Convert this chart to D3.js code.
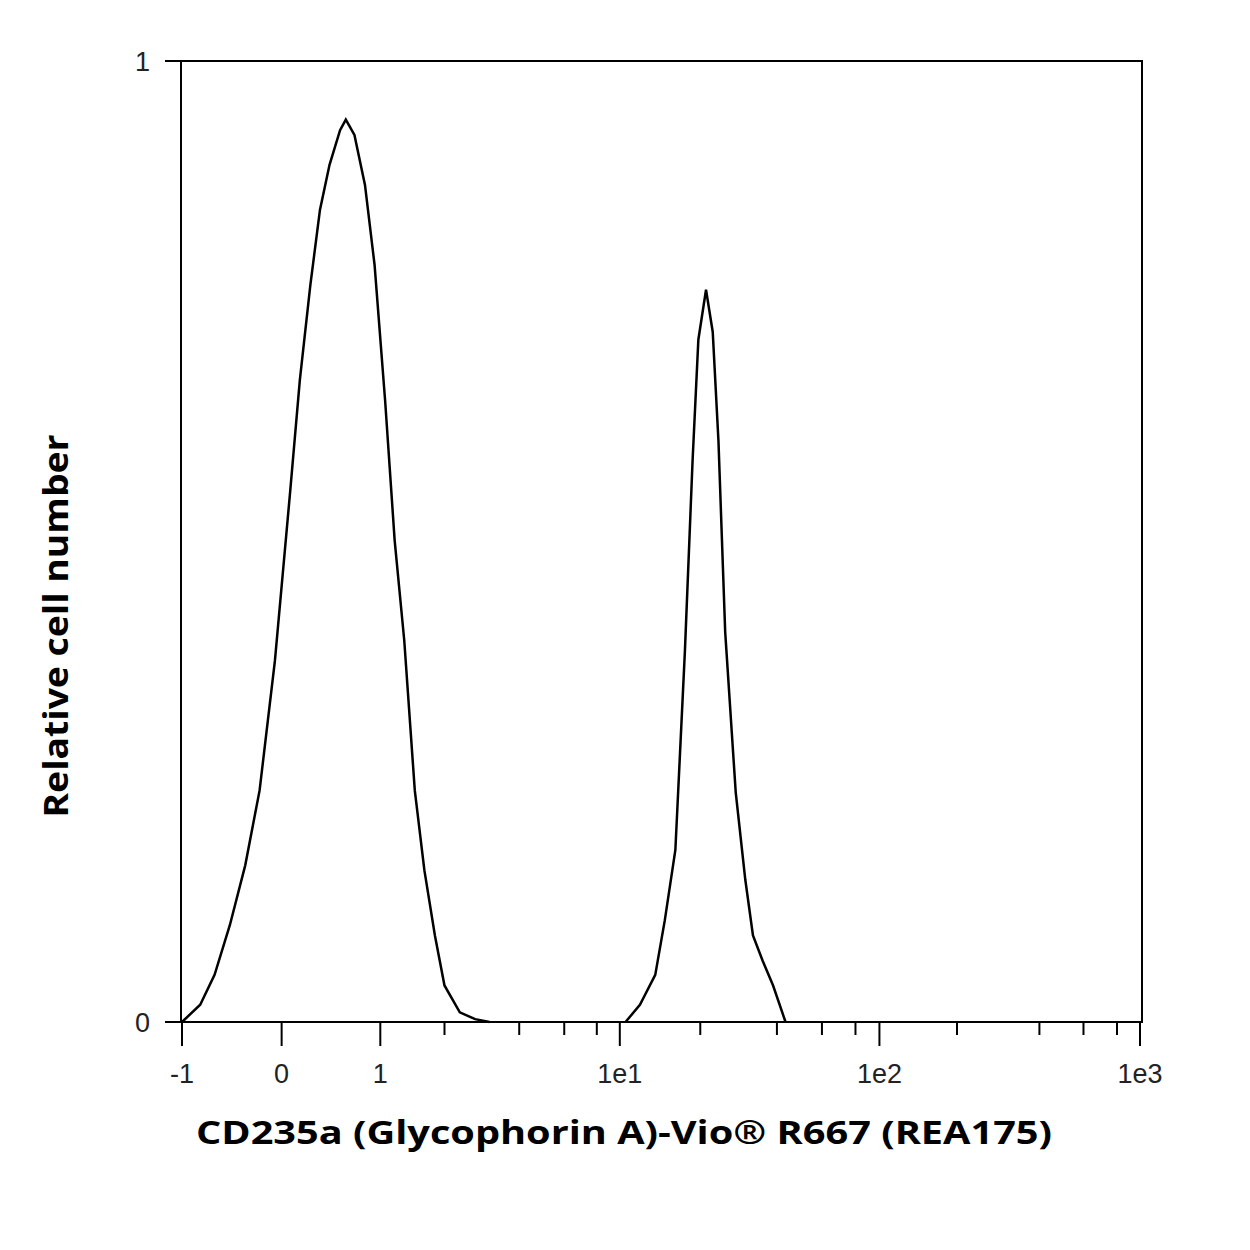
<!DOCTYPE html><html><head><script src="https://cdn.jsdelivr.net/npm/d3@7"></script>
<style>body{margin:0;background:#fff}</style></head><body><script>
const peak1Channel=[0,19,34,50,66,81,97,113,123,134,144,154,165,171,180,191,201,212,222,232,243,253,264,274,290,306,321];
const peak1Count=[0,.018,.049,.101,.163,.241,.376,.553,.668,.767,.845,.892,.928,.939,.923,.871,.788,.647,.501,.397,.241,.158,.090,.038,.010,.003,0];
const peak2Channel=[463,478,494,504,515,525,533,539,547,554,560,567,578,588,596,606,617,630];
const peak2Count=[0,.018,.049,.106,.179,.387,.585,.710,.762,.718,.604,.406,.239,.148,.090,.064,.038,0];
const majorLabels=["-1","0","1","1e1","1e2","1e3"];
const majorChannels=[0,104,207,457,728,1000];
const minorChannels=[274,352,399,433,541,621,668,703,809,895,941,976];
const W=1250,H=1250,L=181,R=1142,T=61,B=1022;
const svg=d3.select("body").append("svg").attr("width",W).attr("height",H);
const x=d3.scaleLinear().domain([0,1000]).range([182,1140]);
const y=d3.scaleLinear().domain([0,1]).range([B,T]);
const line=d3.line().x(d=>x(d[0])).y(d=>y(d[1]));
[[peak1Channel,peak1Count],[peak2Channel,peak2Count]].forEach(([c,v])=>{
 svg.append("path").attr("d",line(d3.zip(c,v))).attr("fill","none").attr("stroke","#000").attr("stroke-width",2.5);
});
svg.append("rect").attr("x",L).attr("y",T).attr("width",R-L).attr("height",B-T).attr("fill","none").attr("stroke","#000").attr("stroke-width",2);
const g=svg.append("g").attr("stroke","#000").attr("stroke-width",2);
majorChannels.forEach(c=>g.append("line").attr("x1",x(c)).attr("x2",x(c)).attr("y1",B).attr("y2",B+24));
minorChannels.forEach(c=>g.append("line").attr("x1",x(c)).attr("x2",x(c)).attr("y1",B).attr("y2",B+13));
[0,1].forEach(v=>g.append("line").attr("x1",165).attr("x2",L).attr("y1",y(v)).attr("y2",y(v)));
majorLabels.forEach((t,i)=>svg.append("text").attr("x",x(majorChannels[i])).attr("y",1083).attr("text-anchor","middle").attr("font-family","Liberation Sans").attr("font-size",27).attr("fill","#222").text(t));
[0,1].forEach(v=>svg.append("text").attr("x",150).attr("y",y(v)+10).attr("text-anchor","end").attr("font-family","Liberation Sans").attr("font-size",27).attr("fill","#222").text(v));
svg.append("text").attr("x",624).attr("y",1144).attr("text-anchor","middle").attr("font-family","Open Sans").attr("font-weight","bold").attr("font-size",33).attr("textLength",856).attr("lengthAdjust","spacingAndGlyphs").text("CD235a (Glycophorin A)-Vio® R667 (REA175)");
svg.append("text").attr("transform","translate(68,626) rotate(-90)").attr("text-anchor","middle").attr("font-family","Open Sans").attr("font-weight","bold").attr("font-size",34).attr("textLength",383).attr("lengthAdjust","spacingAndGlyphs").text("Relative cell number");
</script></body></html>
